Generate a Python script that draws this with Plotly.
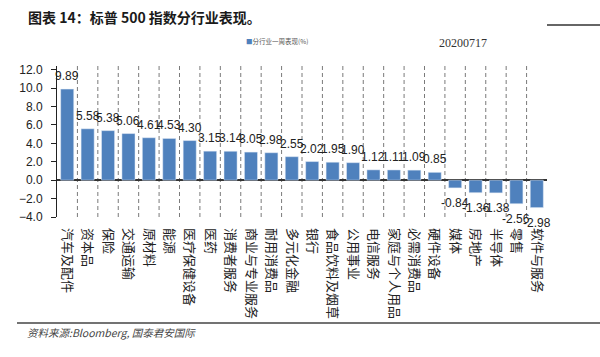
import plotly.graph_objects as go

categories = ["汽车及配件", "资本品", "保险", "交通运输", "原材料", "能源", "医疗保健设备",
              "医药", "消费者服务", "商业与专业服务", "耐用消费品", "多元化金融", "银行",
              "食品饮料及烟草", "公用事业", "电信服务", "家庭与个人用品", "必需消费品",
              "硬件设备", "媒体", "房地产", "半导体", "零售", "软件与服务"]
values = [9.89, 5.58, 5.38, 5.06, 4.61, 4.53, 4.30, 3.15, 3.14, 3.05, 2.98, 2.55, 2.02,
          1.95, 1.90, 1.12, 1.11, 1.09, 0.85, -0.84, -1.36, -1.38, -2.56, -2.98]
y_ticks = [12, 10, 8, 6, 4, 2, 0, -2, -4]
series_name = "分行业一周表现(%)"

W, H = 600, 357
L, R, T, B = 57, 53, 66, 140
PW, PH = W - L - R, H - T - B

def px(x):
    return (x - L) / PW

def py(y):
    return (H - B - y) / PH

BAR = "#4F81BD"

fig = go.Figure()
fig.add_trace(go.Bar(x=categories, y=values, marker_color=BAR, name=series_name,
                     showlegend=False))

ann = []
for c, v in zip(categories, values):
    ann.append(dict(x=c, y=v, text=f"{v:.2f}", showarrow=False, xref="x", yref="y",
                    yshift=13 if v >= 0 else -15, yanchor="middle",
                    font=dict(family="Liberation Sans", size=12, color="#222")))

ann += [
    dict(x=px(26), y=py(17), xref="paper", yref="paper", xanchor="left", yanchor="middle",
         text="<b>图表 14：标普 500 指数分行业表现。</b>", showarrow=False,
         font=dict(family="Noto Sans CJK SC", size=14, color="#1a1a1a")),
    dict(x=px(244), y=py(41), xref="paper", yref="paper", xanchor="left", yanchor="middle",
         text=f"<span style='color:{BAR}'>■</span>{series_name}", showarrow=False,
         font=dict(family="Noto Sans CJK SC", size=6.5, color="#555")),
    dict(x=px(437), y=py(43), xref="paper", yref="paper", xanchor="left", yanchor="middle",
         text="20200717", showarrow=False,
         font=dict(family="Liberation Serif", size=12, color="#333")),
    dict(x=px(25), y=py(332), xref="paper", yref="paper", xanchor="left", yanchor="middle",
         text="资料来源:Bloomberg, 国泰君安国际", showarrow=False,
         font=dict(family="Noto Sans CJK SC", size=10.5, color="#444", style="italic")),
]

shapes = [
    dict(type="line", xref="paper", yref="paper", x0=px(547), x1=px(600), y0=py(25), y1=py(25),
         line=dict(color="#333", width=1.3)),
    dict(type="line", xref="paper", yref="paper", x0=px(17), x1=px(600), y0=py(323), y1=py(323),
         line=dict(color="#444", width=1.3)),
]
# dashed category-boundary gridlines (paper coordinates from category count)
n = len(categories)
for i in range(1, n):
    xp = i / n
    shapes.append(dict(type="line", xref="paper", yref="paper", x0=xp, x1=xp,
                       y0=0, y1=1, layer="below",
                       line=dict(color="#7a7a7a", width=1, dash="4px,3px")))

fig.update_layout(
    width=W, height=H,
    margin=dict(l=L, r=R, t=T, b=B, pad=0),
    paper_bgcolor="white", plot_bgcolor="white",
    bargap=0.36,
    annotations=ann, shapes=shapes,
    showlegend=False,
)
fig.update_xaxes(
    type="category", showgrid=False, ticks="", tickangle=90, showline=False,
    tickfont=dict(family="Noto Sans CJK SC", size=13, color="#222"),
    ticklabelstandoff=10, range=[-0.5, len(categories) - 0.5],
)
fig.update_yaxes(
    range=[-4, 12.4], tickvals=y_ticks, tickformat=".1f", showgrid=False,
    showline=True, linecolor="#222", linewidth=1, ticks="outside", ticklen=5,
    tickcolor="#222", zeroline=True, zerolinecolor="#333", zerolinewidth=1.5,
    tickfont=dict(family="Liberation Sans", size=12, color="#222"),
    ticklabelstandoff=6,
)

fig.write_html("out.html")
